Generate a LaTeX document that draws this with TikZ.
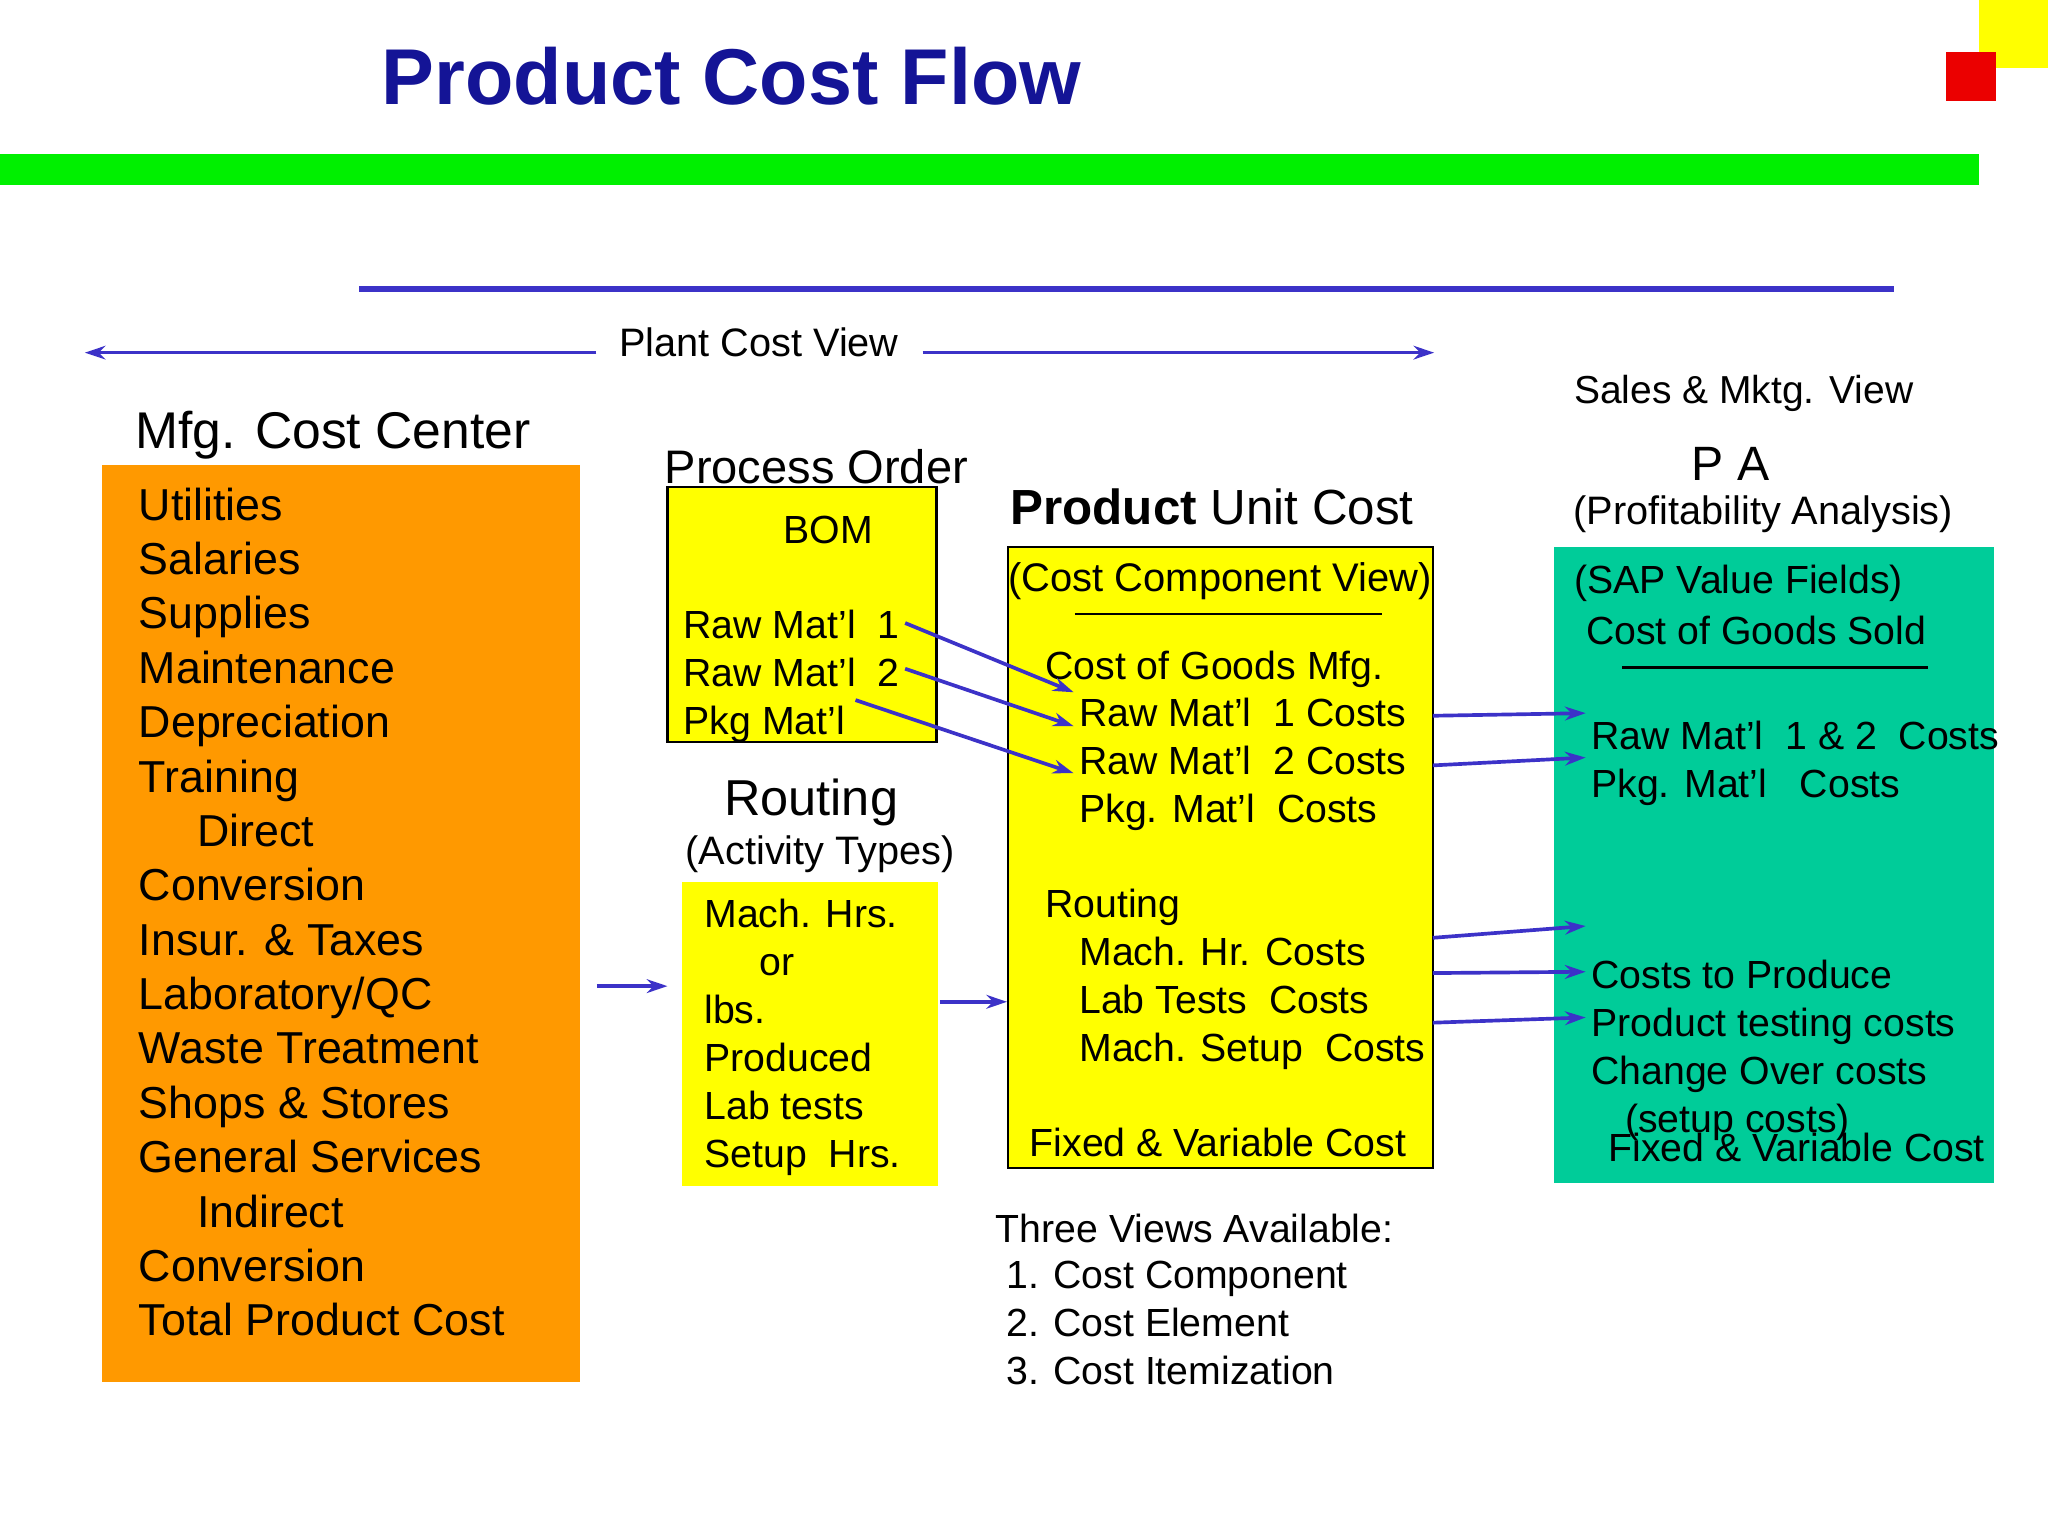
\documentclass[tikz,border=0pt]{standalone}
\usepackage{fontspec}
\setmainfont{Liberation Sans}
\usetikzlibrary{arrows.meta,positioning}
\definecolor{titleblue}{RGB}{20,20,150}
\definecolor{arrowblue}{RGB}{60,50,200}
\definecolor{barGreen}{RGB}{0,240,0}
\definecolor{boxOrange}{RGB}{255,153,0}
\definecolor{boxYellow}{RGB}{255,255,0}
\definecolor{boxGreen}{RGB}{0,204,153}
\definecolor{cornerRed}{RGB}{235,0,0}
\definecolor{cornerYellow}{RGB}{255,255,0}

\begin{document}
\begin{tikzpicture}[
    x=0.02cm, y=-0.02cm,
    txt/.style={inner sep=0pt, font=\fontsize{17.5}{20}\selectfont},
    list/.style={inner sep=0pt, align=left, anchor=north west},
    biglist/.style={list, font=\fontsize{19.5}{23.7}\selectfont},
    smalllist/.style={list, font=\fontsize{17.1}{20.9}\selectfont},
    arrow/.style={-{Stealth[length=9pt,width=6pt]}, arrowblue, line width=1.6pt},
    head/.style={inner sep=0pt, font=\fontsize{20}{24}\selectfont}
  ]
  \useasboundingbox (0,0) rectangle (1568,1176);
  \fill[white] (0,0) rectangle (1568,1176);

  % Header
  \fill[cornerYellow] (1515,0) rectangle (1568,52);
  \fill[cornerRed] (1490,40) rectangle (1528,77);
  \node[inner sep=0pt, font=\fontsize{34.5}{40}\bfseries, text=titleblue] (title) at (560,58) {Product Cost Flow};
  \fill[barGreen] (0,118) rectangle (1515,142);
  \draw[arrowblue, line width=2.5pt] (275,221) -- (1450,221);

  % Plant cost view
  \node[txt, font=\fontsize{17.3}{20}\selectfont] (plantview) at (581,262) {Plant Cost View};
  \coordinate (pv_left) at (65,270);
  \coordinate (pv_right) at (1098,270);
  \draw[arrow, line width=1.2pt] (plantview.west |- pv_left) ++(-17,0) -- (pv_left);
  \draw[arrow, line width=1.2pt] (plantview.east |- pv_right) ++(18,0) -- (pv_right);
  \node[txt, font=\fontsize{17}{20}\selectfont] (salesview) at (1335,301) {Sales \& Mktg. View};

  % Mfg. cost center
  \node[head, font=\fontsize{22.5}{26}\selectfont] (mfg_title) at (255,333) {Mfg. Cost Center};
  \fill[boxOrange] (78,356) rectangle (444,1058);
  \node[biglist] (mfg_list) at (106,373) {Utilities\\Salaries\\Supplies\\Maintenance\\Depreciation\\Training\\
    \hspace*{1.3em}Direct\\Conversion\\Insur. \& Taxes\\Laboratory/QC\\Waste Treatment\\Shops \& Stores\\
    General Services\\\hspace*{1.3em}Indirect\\Conversion\\Total Product Cost};

  % Process order
  \node[head, font=\fontsize{20.5}{24}\selectfont] (po_title) at (625,357) {Process Order};
  \draw[fill=boxYellow, line width=1pt] (511,373) rectangle (717,568);
  \node[txt, font=\fontsize{17.1}{20}\selectfont] (bom) at (634,406) {BOM};
  \node[smalllist] (bom_list) at (523,467) {Raw Mat’l\ \ 1\\Raw Mat’l\ \ 2\\Pkg Mat’l};

  % Routing
  \node[head, font=\fontsize{22}{26}\selectfont] (rt_title) at (621,614) {Routing};
  \node[txt, font=\fontsize{17.3}{20}\selectfont] (rt_sub) at (628,654) {(Activity Types)};
  \fill[boxYellow] (522,675) rectangle (718,908);
  \node[smalllist] (rt_list) at (539,688) {Mach. Hrs.\\\hspace*{1.4em}or\\lbs.\\Produced\\Lab tests\\Setup\ \ Hrs.};

  % Product unit cost
  \node[head, font=\fontsize{21.5}{26}\selectfont] (puc_title) at (928,388) {\textbf{Product} Unit Cost};
  \draw[fill=boxYellow, line width=1pt] (772,419) rectangle (1097,894);
  \node[txt, font=\fontsize{17.4}{20}\selectfont] (puc_view) at (934,445) {(Cost Component View)};
  \draw[line width=1pt] (823,470) -- (1058,470);
  \node[smalllist] (puc_cogm) at (800,498) {Cost of Goods Mfg.};
  \node[smalllist] (puc_mat) at (826,534) {Raw Mat’l\ \ 1 Costs\\Raw Mat’l\ \ 2 Costs\\Pkg. Mat’l\ \ Costs};
  \node[smalllist] (puc_rt) at (800,680) {Routing};
  \node[smalllist] (puc_act) at (826,717) {Mach. Hr. Costs\\Lab Tests\ \ Costs\\Mach. Setup\ \ Costs};
  \node[smalllist] (puc_fv) at (788,863) {Fixed \& Variable Cost};

  % Profitability analysis
  \node[head, font=\fontsize{21}{24}\selectfont] (pa_title) at (1325,355) {P A};
  \node[txt, font=\fontsize{17.3}{20}\selectfont] (pa_sub) at (1350,394) {(Profitability Analysis)};
  \fill[boxGreen] (1190,419) rectangle (1527,906);
  \node[smalllist] (pa_sap) at (1205,432) {(SAP Value Fields)};
  \node[smalllist] (pa_cogs) at (1214,471) {Cost of Goods Sold};
  \draw[line width=1pt] (1242,511) -- (1476,511);
  \node[smalllist] (pa_mat) at (1218,552) {Raw Mat’l\ \ 1 \& 2\ \ Costs\\Pkg. Mat’l\ \ \ Costs};
  \node[smalllist] (pa_act) at (1218,735) {Costs to Produce\\Product testing costs\\Change Over costs};
  \node[smalllist] (pa_setup) at (1244,845) {(setup costs)};
  \node[smalllist] (pa_fv) at (1231,867) {Fixed \& Variable Cost};

  % Three views
  \node[smalllist] (views) at (762,929) {Three Views Available:};
  \node[smalllist] (views_list) at (770,965) {1. Cost Component\\2. Cost Element\\3. Cost Itemization};

  % Connections
  \coordinate (bom1) at (693,477);  \coordinate (puc1) at (822,530);
  \coordinate (bom2) at (693,512);  \coordinate (puc2) at (822,556);
  \coordinate (bom3) at (655,536);  \coordinate (puc3) at (822,592);
  \draw[arrow] (bom1) -- (puc1);
  \draw[arrow] (bom2) -- (puc2);
  \draw[arrow] (bom3) -- (puc3);
  \coordinate (mfg_out) at (457,755); \coordinate (rt_in) at (511,755);
  \coordinate (rt_out) at (720,767);  \coordinate (puc_in) at (771,767);
  \draw[arrow] (mfg_out) -- (rt_in);
  \draw[arrow] (rt_out) -- (puc_in);
  \coordinate (o1) at (1097,548); \coordinate (i1) at (1214,546);
  \coordinate (o2) at (1097,586); \coordinate (i2) at (1214,580);
  \coordinate (o3) at (1097,718); \coordinate (i3) at (1214,709);
  \coordinate (o4) at (1097,745); \coordinate (i4) at (1214,744);
  \coordinate (o5) at (1097,783); \coordinate (i5) at (1214,779);
  \foreach \n in {1,...,5} \draw[arrow] (o\n) -- (i\n);
\end{tikzpicture}
\end{document}
